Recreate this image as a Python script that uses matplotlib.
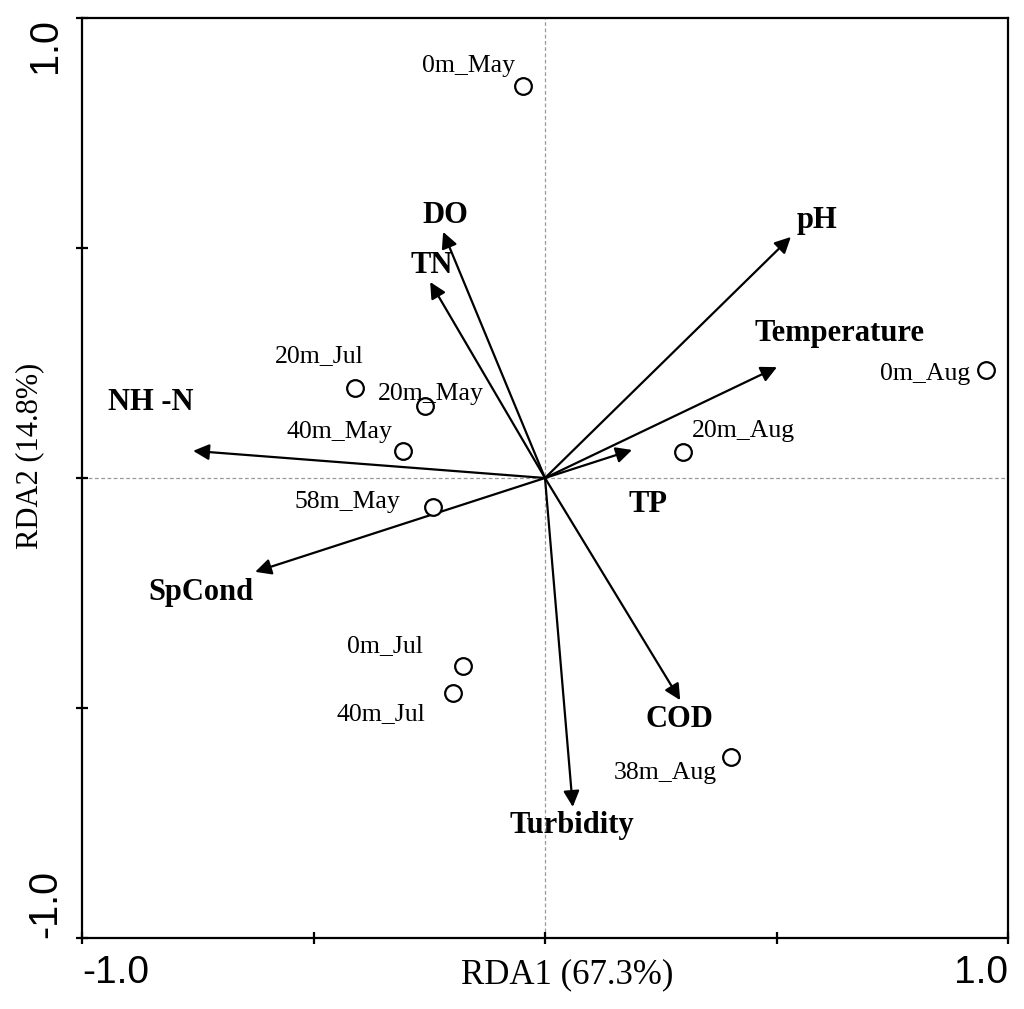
import matplotlib
matplotlib.use("Agg")
import matplotlib.pyplot as plt

# ---- data ----
sites = ["0m_May", "0m_Aug", "20m_Aug", "20m_Jul", "20m_May", "40m_May",
         "58m_May", "0m_Jul", "40m_Jul", "38m_Aug"]
site_x = [-0.048, 0.952, 0.298, -0.410, -0.259, -0.307, -0.242, -0.177, -0.199, 0.402]
site_y = [0.852, 0.235, 0.057, 0.196, 0.157, 0.059, -0.063, -0.409, -0.467, -0.607]

env = ["DO", "TN", "pH", "Temperature", "TP", "NH -N", "SpCond", "Turbidity", "COD"]
env_x = [-0.220, -0.248, 0.531, 0.501, 0.188, -0.760, -0.626, 0.060, 0.292]
env_y = [0.535, 0.426, 0.524, 0.241, 0.061, 0.059, -0.204, -0.715, -0.483]

x_label = "RDA1 (67.3%)"
y_label = "RDA2 (14.8%)"

# label offsets (pixels: dx right, dy up to baseline) and alignment
site_off = [(-8, 14, "right"), (-16, -10, "right"), (9, 15, "left"), (-80, 26, "left"),
            (-47, 6, "left"), (-10, 13, "right"), (-33, -1, "right"), (-40, 14, "right"),
            (-28, -27, "right"), (-14, -22, "right")]
env_off = [(-21, 9), (-20, 9), (6, 9), (-22, 26), (-4, -62), (-85, 41), (-107, -28),
           (-63, -26), (-35, -27)]

PX = 0.72  # points per pixel at dpi 100
serif = ["Liberation Serif", "DejaVu Serif"]
sans = ["Liberation Sans", "DejaVu Sans"]

fig = plt.figure(figsize=(10.24, 10.09), dpi=100)
ax = fig.add_axes([82 / 1024, 1 - 938 / 1009, (1008 - 82) / 1024, (938 - 18) / 1009])
ax.set_xlim(-1.0, 1.0)
ax.set_ylim(-1.0, 1.0)

ax.axhline(0, color="#9a9a9a", lw=0.9, ls=(0, (3, 2)), zorder=1)
ax.axvline(0, color="#9a9a9a", lw=0.9, ls=(0, (3, 2)), zorder=1)

for name, ex, ey, (dx, dy) in zip(env, env_x, env_y, env_off):
    ax.annotate("", xy=(ex, ey), xytext=(0, 0),
                arrowprops=dict(arrowstyle="-|>", color="black", lw=1.6,
                                mutation_scale=24, shrinkA=0, shrinkB=0),
                zorder=2)
    ax.annotate(name, xy=(ex, ey), xytext=(dx * PX, dy * PX), textcoords="offset points",
                ha="left", va="baseline", fontsize=22, fontweight="bold",
                family=serif, zorder=4)

ax.plot(site_x, site_y, "o", ms=12, mfc="white", mec="black", mew=1.6, zorder=3,
        ls="none")
for name, sx, sy, (dx, dy, ha) in zip(sites, site_x, site_y, site_off):
    ax.annotate(name, xy=(sx, sy), xytext=(dx * PX, dy * PX), textcoords="offset points",
                ha=ha, va="baseline", fontsize=18.5, family=serif, zorder=4)

for s in ax.spines.values():
    s.set_linewidth(1.6)

ax.set_xticks([-1.0, -0.5, 0.0, 0.5, 1.0])
ax.set_xticklabels(["-1.0", "", "", "", "1.0"])
ax.set_yticks([-1.0, -0.5, 0.0, 0.5, 1.0])
ax.set_yticklabels(["-1.0", "", "", "", "1.0"], rotation=90)
ax.tick_params(direction="inout", length=8, width=1.6)
ax.tick_params(axis="x", labelsize=28, pad=8)
ax.tick_params(axis="y", labelsize=28.5, pad=9)
for t in ax.get_xticklabels() + ax.get_yticklabels():
    t.set_family(sans)
xl = ax.get_xticklabels()
xl[0].set_ha("left")
xl[-1].set_ha("right")
yl = ax.get_yticklabels()
yl[0].set_va("bottom")
yl[-1].set_va("top")
for t in yl:
    t.set_ha("right")

fig.text(567 / 1024, 1 - 975 / 1009, x_label, ha="center", va="center",
         fontsize=25, family=serif)
fig.text(30 / 1024, 1 - 456 / 1009, y_label, ha="center", va="center",
         fontsize=22, family=serif, rotation=90)

fig.savefig("out.png", dpi=100)
